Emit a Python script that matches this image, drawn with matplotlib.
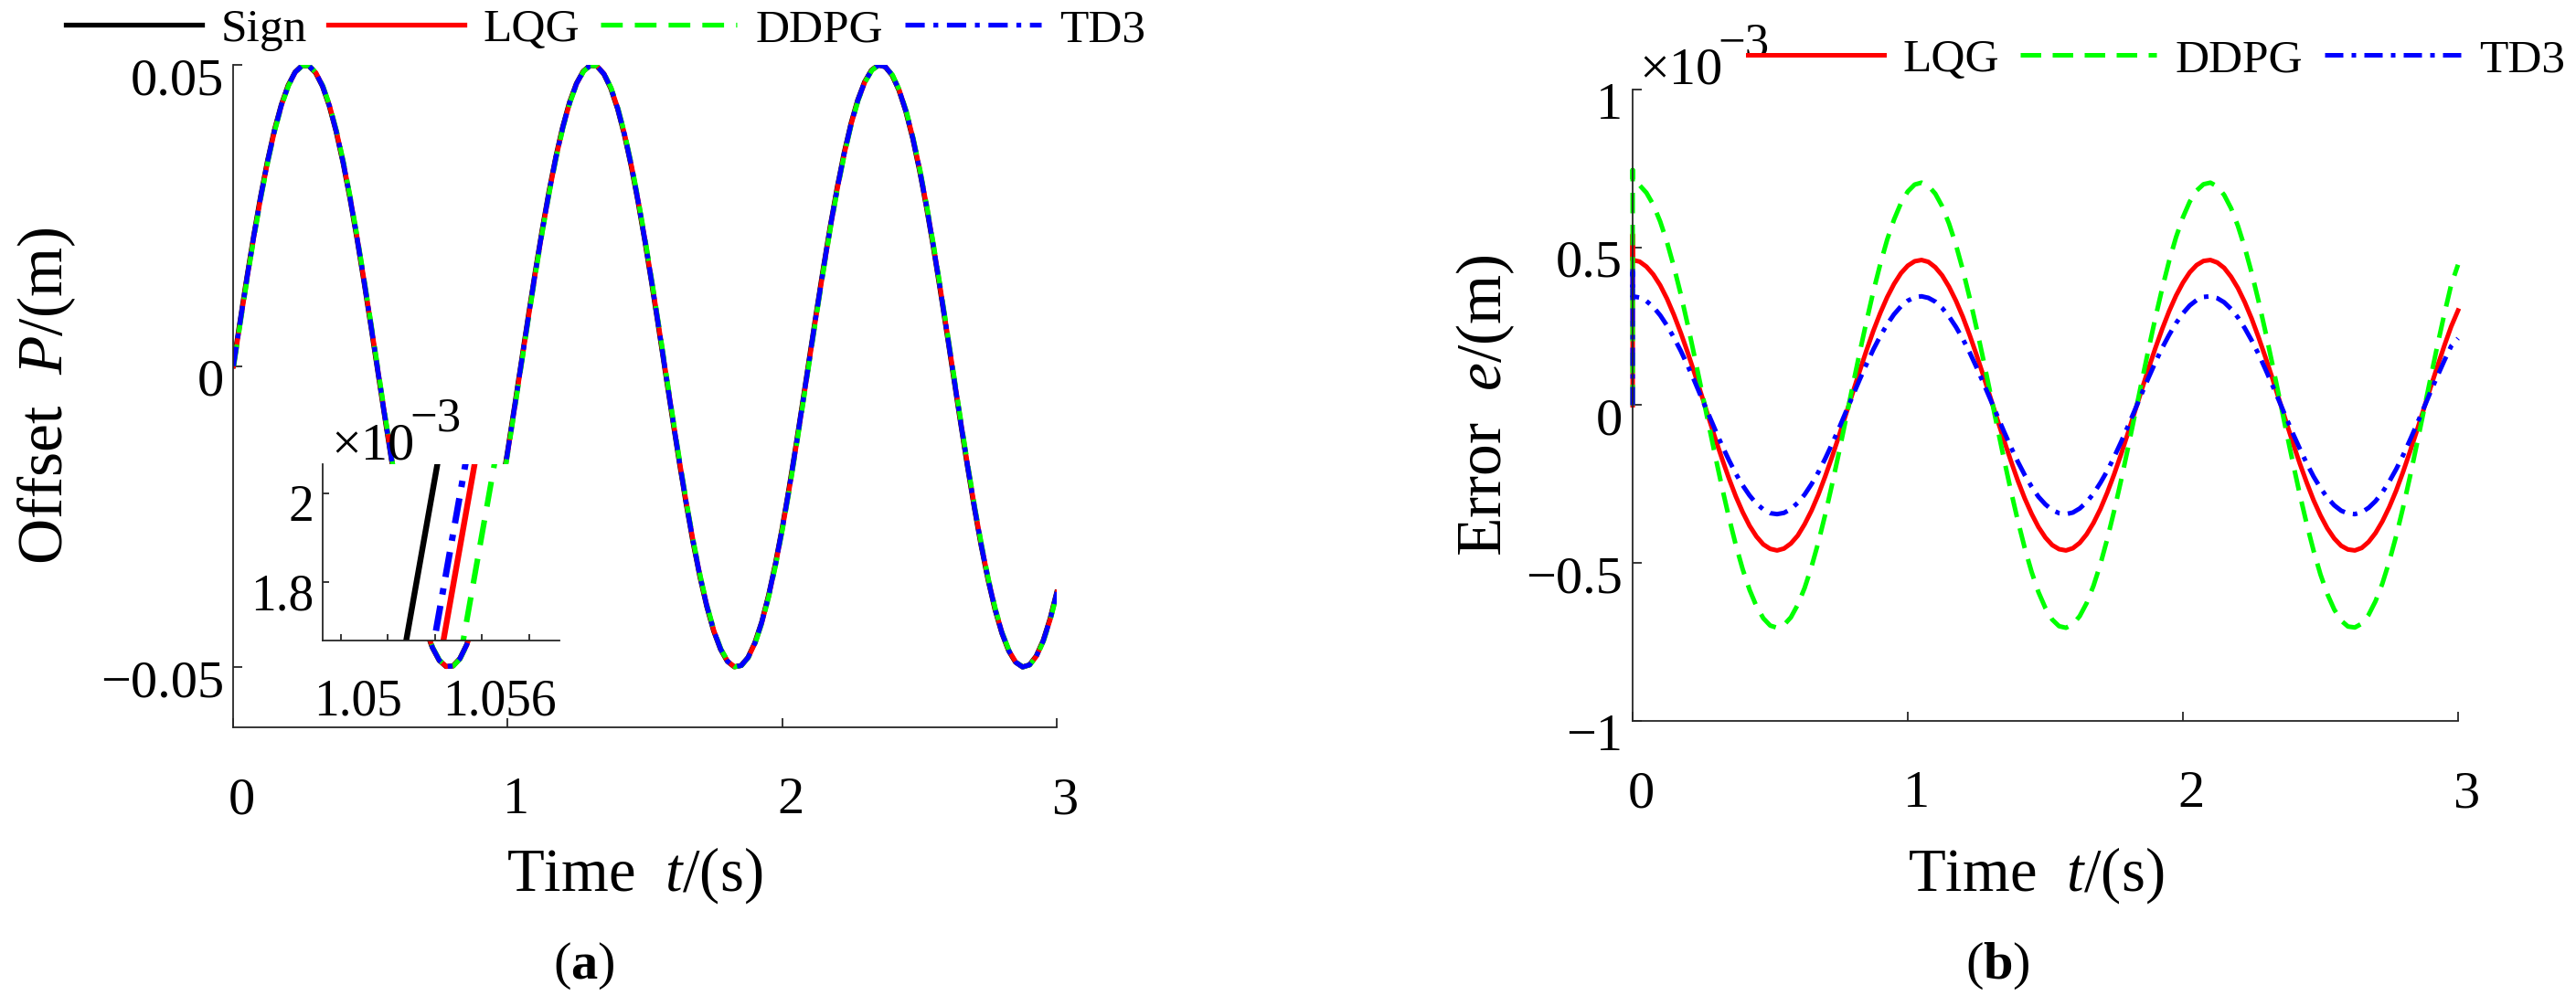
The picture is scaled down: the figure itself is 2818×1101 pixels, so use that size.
import matplotlib
matplotlib.use('Agg')
import matplotlib.pyplot as plt
import matplotlib.transforms as mtransforms

plt.rcParams['font.family'] = ['Liberation Serif', 'DejaVu Serif']
plt.rcParams['mathtext.fontset'] = 'custom'
plt.rcParams['mathtext.rm'] = 'Liberation Serif'
plt.rcParams['mathtext.it'] = 'Liberation Serif:italic'
plt.rcParams['mathtext.bf'] = 'Liberation Serif:bold'

# sample times (s)
t = [0.0, 0.025, 0.05, 0.075, 0.1, 0.125, 0.15, 0.175, 0.2, 0.225,
     0.25, 0.275, 0.3, 0.325, 0.35, 0.375, 0.4, 0.425, 0.45, 0.475,
     0.5, 0.525, 0.55, 0.575, 0.6, 0.625, 0.65, 0.675, 0.7, 0.725,
     0.75, 0.775, 0.8, 0.825, 0.85, 0.875, 0.9, 0.925, 0.95, 0.975,
     1.0, 1.025, 1.05, 1.075, 1.1, 1.125, 1.15, 1.175, 1.2, 1.225,
     1.25, 1.275, 1.3, 1.325, 1.35, 1.375, 1.4, 1.425, 1.45, 1.475,
     1.5, 1.525, 1.55, 1.575, 1.6, 1.625, 1.65, 1.675, 1.7, 1.725,
     1.75, 1.775, 1.8, 1.825, 1.85, 1.875, 1.9, 1.925, 1.95, 1.975,
     2.0, 2.025, 2.05, 2.075, 2.1, 2.125, 2.15, 2.175, 2.2, 2.225,
     2.25, 2.275, 2.3, 2.325, 2.35, 2.375, 2.4, 2.425, 2.45, 2.475,
     2.5, 2.525, 2.55, 2.575, 2.6, 2.625, 2.65, 2.675, 2.7, 2.725,
     2.75, 2.775, 2.8, 2.825, 2.85, 2.875, 2.9, 2.925, 2.95, 2.975,
     3.0]

# reference offset signal P (m)
sign = [0.0, 0.00747, 0.01478, 0.02175, 0.02823, 0.03408, 0.03917, 0.04337, 0.04660, 0.04879,
        0.04987, 0.04984, 0.04869, 0.04645, 0.04316, 0.03890, 0.03377, 0.02788, 0.02137, 0.01437,
        0.00706, -0.00042, -0.00789, -0.01518, -0.02213, -0.02858, -0.03439, -0.03943, -0.04358, -0.04675,
        -0.04888, -0.04990, -0.04981, -0.04860, -0.04629, -0.04295, -0.03864, -0.03346, -0.02753, -0.02099,
        -0.01397, -0.00664, 0.00084, 0.00830, 0.01558, 0.02250, 0.02892, 0.03469, 0.03968, 0.04378,
        0.04690, 0.04896, 0.04993, 0.04977, 0.04849, 0.04613, 0.04273, 0.03837, 0.03315, 0.02718,
        0.02061, 0.01357, 0.00622, -0.00126, -0.00872, -0.01598, -0.02288, -0.02926, -0.03499, -0.03994,
        -0.04398, -0.04704, -0.04905, -0.04995, -0.04973, -0.04839, -0.04597, -0.04251, -0.03810, -0.03283,
        -0.02683, -0.02022, -0.01316, -0.00581, 0.00168, 0.00913, 0.01637, 0.02325, 0.02960, 0.03529,
        0.04019, 0.04418, 0.04718, 0.04913, 0.04997, 0.04968, 0.04828, 0.04580, 0.04229, 0.03783,
        0.03251, 0.02647, 0.01984, 0.01276, 0.00539, -0.00210, -0.00954, -0.01677, -0.02362, -0.02994,
        -0.03559, -0.04044, -0.04438, -0.04732, -0.04920, -0.04998, -0.04963, -0.04817, -0.04563, -0.04206,
        -0.03755]

# tracking lag of each controller (s)
lag_lqg = 0.00158
lag_ddpg = 0.00242
lag_td3 = 0.00119

# tracking error (x1e-3 m); first two points are the start-up jump at t = 0
t_err = [0.0, 0.0] + t
err_lqg = [0.0, 0.54,
           0.460, 0.455, 0.439, 0.414, 0.380, 0.337, 0.286, 0.229, 0.167, 0.101,
           0.033, -0.036, -0.105, -0.170, -0.232, -0.289, -0.339, -0.382, -0.416, -0.441,
           -0.455, -0.460, -0.454, -0.438, -0.413, -0.377, -0.334, -0.283, -0.225, -0.163,
           -0.097, -0.029, 0.040, 0.108, 0.174, 0.236, 0.292, 0.342, 0.384, 0.418,
           0.442, 0.456, 0.460, 0.454, 0.437, 0.411, 0.375, 0.331, 0.280, 0.222,
           0.159, 0.093, 0.025, -0.044, -0.112, -0.177, -0.239, -0.295, -0.344, -0.386,
           -0.419, -0.443, -0.456, -0.460, -0.453, -0.436, -0.409, -0.373, -0.329, -0.277,
           -0.219, -0.156, -0.089, -0.021, 0.048, 0.116, 0.181, 0.242, 0.298, 0.347,
           0.388, 0.421, 0.444, 0.457, 0.460, 0.452, 0.435, 0.407, 0.371, 0.326,
           0.274, 0.215, 0.152, 0.086, 0.017, -0.052, -0.120, -0.185, -0.245, -0.301,
           -0.349, -0.390, -0.422, -0.445, -0.457, -0.460, -0.452, -0.433, -0.405, -0.368,
           -0.323, -0.271, -0.212, -0.148, -0.082, -0.013, 0.056, 0.123, 0.188, 0.249,
           0.300]
err_ddpg = [0.0, 0.745,
            0.705, 0.697, 0.673, 0.635, 0.582, 0.516, 0.438, 0.351, 0.255, 0.154,
            0.050, -0.056, -0.160, -0.261, -0.356, -0.443, -0.520, -0.585, -0.637, -0.675,
            -0.698, -0.705, -0.696, -0.672, -0.632, -0.579, -0.512, -0.434, -0.346, -0.250,
            -0.149, -0.044, 0.062, 0.166, 0.266, 0.361, 0.447, 0.524, 0.588, 0.640,
            0.677, 0.699, 0.705, 0.695, 0.670, 0.630, 0.575, 0.508, 0.429, 0.340,
            0.244, 0.143, 0.038, -0.068, -0.172, -0.272, -0.366, -0.452, -0.528, -0.592,
            -0.642, -0.679, -0.700, -0.705, -0.694, -0.668, -0.627, -0.572, -0.504, -0.424,
            -0.335, -0.239, -0.137, -0.032, 0.073, 0.177, 0.277, 0.371, 0.457, 0.532,
            0.595, 0.645, 0.680, 0.700, 0.705, 0.693, 0.666, 0.624, 0.568, 0.499,
            0.419, 0.330, 0.233, 0.131, 0.026, -0.079, -0.183, -0.283, -0.376, -0.461,
            -0.536, -0.598, -0.647, -0.682, -0.701, -0.704, -0.692, -0.664, -0.621, -0.565,
            -0.495, -0.415, -0.325, -0.228, -0.125, -0.020, 0.085, 0.189, 0.288, 0.381,
            0.445]
err_td3 = [0.0, 0.44,
           0.345, 0.341, 0.330, 0.311, 0.285, 0.252, 0.214, 0.172, 0.125, 0.076,
           0.024, -0.027, -0.078, -0.128, -0.174, -0.217, -0.254, -0.286, -0.312, -0.330,
           -0.342, -0.345, -0.341, -0.329, -0.309, -0.283, -0.250, -0.212, -0.169, -0.122,
           -0.073, -0.021, 0.030, 0.081, 0.130, 0.177, 0.219, 0.256, 0.288, 0.313,
           0.331, 0.342, 0.345, 0.340, 0.328, 0.308, 0.281, 0.248, 0.210, 0.167,
           0.120, 0.070, 0.019, -0.033, -0.084, -0.133, -0.179, -0.221, -0.258, -0.290,
           -0.314, -0.332, -0.342, -0.345, -0.340, -0.327, -0.307, -0.280, -0.246, -0.208,
           -0.164, -0.117, -0.067, -0.016, 0.036, 0.087, 0.136, 0.182, 0.223, 0.260,
           0.291, 0.316, 0.333, 0.343, 0.345, 0.339, 0.326, 0.305, 0.278, 0.244,
           0.205, 0.162, 0.114, 0.064, 0.013, -0.039, -0.090, -0.138, -0.184, -0.226,
           -0.262, -0.293, -0.317, -0.334, -0.343, -0.345, -0.339, -0.325, -0.304, -0.276,
           -0.242, -0.203, -0.159, -0.111, -0.061, -0.010, 0.042, 0.092, 0.141, 0.187,
           0.212]

RED = '#FF0000'
GREEN = '#00FF00'
BLUE = '#0000FF'
DASH = (0, (4.5, 2.5))
DASHDOT = (0, (4, 1.8, 1, 1.8))
AXC = '#262626'

W, H = 2818, 1101
fig = plt.figure(figsize=(W / 100, H / 100), dpi=100)


def px(x, y):
    return x / W, 1 - y / H


def style(ax, size=42, xpad=39, ypad=7, length=7):
    for s in ['top', 'right']:
        ax.spines[s].set_visible(False)
    for s in ['left', 'bottom']:
        ax.spines[s].set_linewidth(1.3)
        ax.spines[s].set_color(AXC)
    ax.tick_params(direction='in', length=length, width=1.3, color=AXC,
                   labelsize=size, labelcolor='black')
    ax.tick_params(axis='x', pad=xpad)
    ax.tick_params(axis='y', pad=ypad)


def shift(labels, dx, dy):
    off = mtransforms.ScaledTranslation(dx / 100, -dy / 100, fig.dpi_scale_trans)
    for lb in labels:
        lb.set_transform(lb.get_transform() + off)


def exponent(x, y):
    # MATLAB-style "x10^-3" multiplier, drawn as two texts
    fig.text(*px(x, y), '\u00d710', fontsize=42, ha='left', va='baseline')
    fig.text(*px(x + 86, y - 30), '\u22123', fontsize=38, ha='left', va='baseline')


# ---------- (a) offset tracking ----------
ax1 = fig.add_axes([0.0905, 0.2770, 0.3197, 0.6585])
t_lqg = [v + lag_lqg for v in t]
t_ddpg = [v + lag_ddpg for v in t]
t_td3 = [v + lag_td3 for v in t]
l0, = ax1.plot(t, sign, color='black', lw=3.8, label='Sign')
l1, = ax1.plot(t_lqg, sign, color=RED, lw=3.8, label='LQG')
l2, = ax1.plot(t_ddpg, sign, color=GREEN, lw=3.8, ls=DASH, label='DDPG')
l3, = ax1.plot(t_td3, sign, color=BLUE, lw=3.8, ls=DASHDOT, label='TD3')
ax1.set_xlim(0, 3)
ax1.set_ylim(-0.06, 0.05)
style(ax1)
ax1.set_xticks([0, 1, 2, 3], ['0', '1', '2', '3'])
ax1.set_yticks([-0.05, 0, 0.05], ['\u22120.05', '0', '0.05'])
shift(ax1.get_xticklabels(), 9, 0)
shift(ax1.get_yticklabels(), 0, 12)

fig.legend([l0, l1, l2, l3], ['Sign', 'LQG', 'DDPG', 'TD3'],
           loc='center left', bbox_to_anchor=px(72, 33), ncol=4, frameon=False,
           fontsize=37, handlelength=2.9, handletextpad=0.4, columnspacing=0.45,
           borderpad=0, borderaxespad=0)

# inset zoom near t = 1.05 s
axin = fig.add_axes([0.1253, 0.3633, 0.0919, 0.1753])
sign_milli = [v * 1e3 for v in sign]
axin.plot(t, sign_milli, color='black', lw=4.6, solid_capstyle='round')
axin.plot(t_td3, sign_milli, color=BLUE, lw=5.0, ls=DASHDOT)
axin.plot(t_lqg, sign_milli, color=RED, lw=4.6, solid_capstyle='round')
axin.plot(t_ddpg, sign_milli, color=GREEN, lw=4.4, ls=DASH)
axin.set_xlim(1.04924, 1.05929)
axin.set_ylim(1.670, 2.065)
style(axin, size=40, xpad=30, ypad=7, length=5)
axin.set_xticks([1.05, 1.052, 1.054, 1.056, 1.058], ['1.05', '', '', '1.056', ''])
axin.set_yticks([1.8, 2.0], ['1.8', '2'])
shift(axin.get_xticklabels(), 19, 0)
shift(axin.get_yticklabels(), 0, 10)
exponent(362, 502)

fig.text(*px(51, 433), 'Offset  $P$/(m)', fontsize=50, rotation=90, ha='center', va='center')
fig.text(*px(694, 958), 'Time  $t$/(s)', fontsize=48, ha='center', va='center')
fig.text(*px(639, 1057), r'($\mathbf{a}$)', fontsize=42, ha='center', va='center')

# ---------- (b) tracking error ----------
ax2 = fig.add_axes([0.6338, 0.2834, 0.3204, 0.6276])
m1, = ax2.plot(t_err, err_lqg, color=RED, lw=3.6, clip_on=False, label='LQG')
m2, = ax2.plot(t_err, err_ddpg, color=GREEN, lw=3.6, ls=DASH, clip_on=False, label='DDPG')
m3, = ax2.plot(t_err, err_td3, color=BLUE, lw=3.6, ls=DASHDOT, clip_on=False, label='TD3')
ax2.set_xlim(0, 3)
ax2.set_ylim(-1, 1)
style(ax2, ypad=8)
ax2.set_xticks([0, 1, 2, 3], ['0', '1', '2', '3'])
ax2.set_yticks([-1, -0.5, 0, 0.5, 1], ['\u22121', '\u22120.5', '0', '0.5', '1'])
shift(ax2.get_xticklabels(), 9, 0)
shift(ax2.get_yticklabels(), 0, 12)

fig.legend([m1, m2, m3], ['LQG', 'DDPG', 'TD3'],
           loc='center left', bbox_to_anchor=px(1912, 66), ncol=3, frameon=False,
           fontsize=37, handlelength=2.9, handletextpad=0.4, columnspacing=0.45,
           borderpad=0, borderaxespad=0)
exponent(1793, 92)

fig.text(*px(1625, 444), 'Error  $e$/(m)', fontsize=50, rotation=90, ha='center', va='center')
fig.text(*px(2227, 958), 'Time  $t$/(s)', fontsize=48, ha='center', va='center')
fig.text(*px(2185, 1057), r'($\mathbf{b}$)', fontsize=42, ha='center', va='center')

fig.savefig('out.png', dpi=100)
